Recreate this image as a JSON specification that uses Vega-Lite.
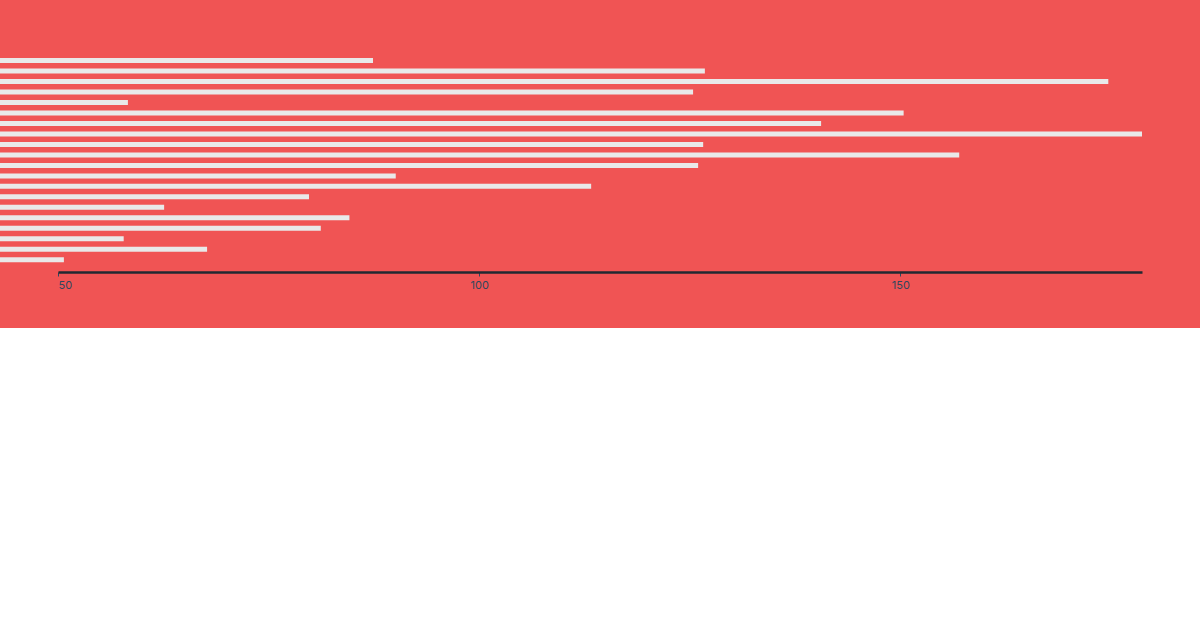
{
  "$schema": "https://vega.github.io/schema/vega-lite/v5.json",
  "width": 1084,
  "height": 212,
  "autosize": "none",
  "padding": 58,
  "background": "#F05454",
  "config": {"view": {"stroke": "transparent"}},
  "data": {
    "values": [
      {"item": "1", "value": 87.4},
      {"item": "2", "value": 126.8},
      {"item": "3", "value": 174.7},
      {"item": "4", "value": 125.4},
      {"item": "5", "value": 58.3},
      {"item": "6", "value": 150.4},
      {"item": "7", "value": 140.6},
      {"item": "8", "value": 178.7},
      {"item": "9", "value": 126.6},
      {"item": "10", "value": 157.0},
      {"item": "11", "value": 126.0},
      {"item": "12", "value": 90.1},
      {"item": "13", "value": 113.3},
      {"item": "14", "value": 79.8},
      {"item": "15", "value": 62.6},
      {"item": "16", "value": 84.6},
      {"item": "17", "value": 81.2},
      {"item": "18", "value": 57.8},
      {"item": "19", "value": 67.7},
      {"item": "20", "value": 50.7}
    ]
  },
  "mark": {"type": "bar", "color": "#E9E9E9"},
  "encoding": {
    "y": {
      "field": "item",
      "type": "nominal",
      "sort": null,
      "axis": null,
      "scale": {"paddingInner": 0.5233, "paddingOuter": 0.3677, "align": 0}
    },
    "x": {
      "field": "value",
      "type": "quantitative",
      "title": "",
      "scale": {"domain": [50, 178.7], "zero": false, "nice": false},
      "axis": {
        "tickCount": 3,
        "offset": 2,
        "grid": false,
        "domainColor": "#222831",
        "domainWidth": 2.5,
        "tickColor": "#30475E",
        "tickSize": 4,
        "labelColor": "#30475E",
        "labelFont": "Inter",
        "labelFontSize": 11,
        "labelPadding": 3
      }
    }
  }
}
